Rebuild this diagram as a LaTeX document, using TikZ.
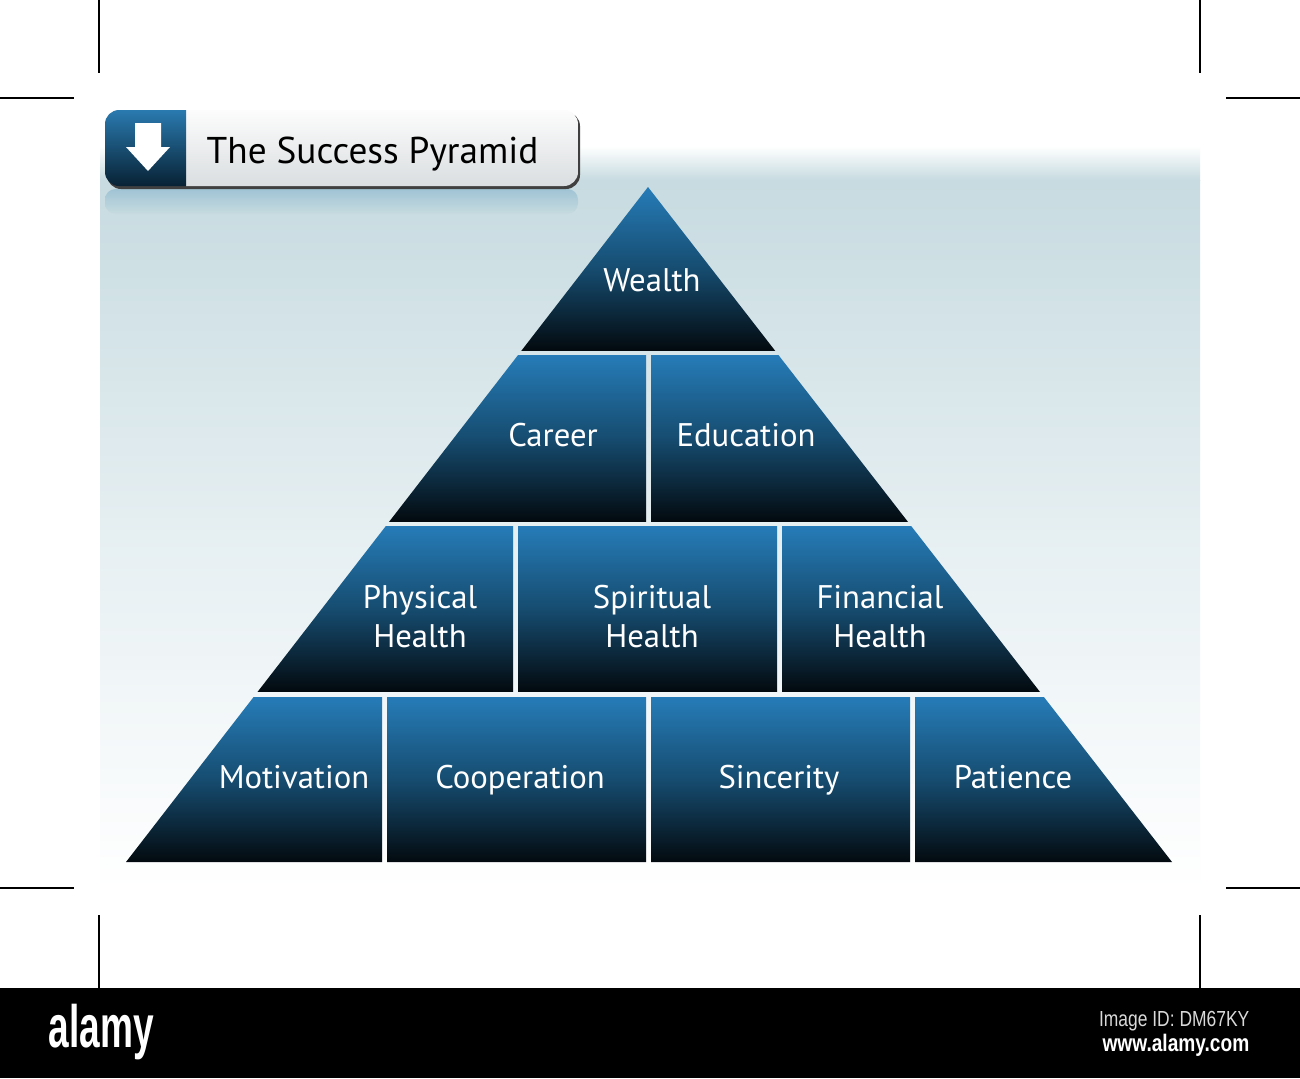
\documentclass[tikz,border=0pt]{standalone}
\usepackage{fontspec}
\setmainfont{PT Sans}
\newfontfamily\barfont{Liberation Sans}
\definecolor{cellTop}{RGB}{38,124,184}
\definecolor{cellMid}{RGB}{22,76,112}
\definecolor{cellBot}{RGB}{3,10,15}
\definecolor{bgA}{RGB}{199,219,224}
\definecolor{bgB}{RGB}{230,239,242}
\definecolor{badgeTop}{RGB}{42,122,176}
\definecolor{badgeBot}{RGB}{8,34,52}
\definecolor{badgeW}{RGB}{252,252,252}
\definecolor{badgeG}{RGB}{218,222,224}
\definecolor{reflA}{RGB}{150,190,210}
\tikzset{
  cell/.style={top color=cellTop, bottom color=cellBot, middle color=cellMid},
  lbl/.style={text=white, font=\fontsize{9.3}{11.1}\selectfont, align=center, inner sep=0pt},
  lblone/.style={lbl, anchor=base},
  cropmark/.style={draw=black, line width=0.45pt},
}
\begin{document}
\begin{tikzpicture}[x=0.01cm,y=-0.01cm]
\useasboundingbox (0,0) rectangle (1300,1078);
\fill[white] (0,0) rectangle (1300,1078);
% background band
\shade[top color=white, bottom color=bgA] (100,146) rectangle (1200,180);
\shade[top color=bgA, bottom color=white, middle color=bgB] (100,180) rectangle (1200,890);
% crop marks
\draw[cropmark] (99,0) -- (99,73);
\draw[cropmark] (99,915) -- (99,988);
\draw[cropmark] (1200,0) -- (1200,73);
\draw[cropmark] (1200,915) -- (1200,988);
\draw[cropmark] (0,98) -- (74,98);
\draw[cropmark] (1226,98) -- (1300,98);
\draw[cropmark] (0,888) -- (74,888);
\draw[cropmark] (1226,888) -- (1300,888);
% badge reflection
\shade[top color=reflA, bottom color=bgA, opacity=0.8, rounded corners=3pt] (105,189) rectangle (578,214);
% badge
\fill[black!75, rounded corners=4pt] (107,112) rectangle (580,189);
\begin{scope}
  \clip[rounded corners=4pt] (105,110) rectangle (578,186);
  \shade[top color=badgeW, bottom color=badgeG] (186,110) rectangle (578,186);
  \shade[top color=badgeTop, bottom color=badgeBot] (105,110) rectangle (186,186);
\end{scope}
\fill[white] (135,123) -- (161,123) -- (161,147) -- (170,147) -- (148,171) -- (126,147) -- (135,147) -- cycle;
\node[anchor=base west, inner sep=0pt, font=\fontsize{10.6}{13}\selectfont, text=black] (title) at (206,163) {The Success Pyramid};
% pyramid
\begin{scope}
  \clip (648,187) -- (126,862) -- (1172,862) -- cycle;
  \shade[cell] (100,187) rectangle (1200,350);
  \shade[cell] (100,355) rectangle (646,521);
  \shade[cell] (651,355) rectangle (1200,521);
  \shade[cell] (100,526) rectangle (513,691);
  \shade[cell] (518,526) rectangle (777,691);
  \shade[cell] (782,526) rectangle (1200,691);
  \shade[cell] (100,697) rectangle (382,862);
  \shade[cell] (387,697) rectangle (646,862);
  \shade[cell] (651,697) rectangle (910,862);
  \shade[cell] (915,697) rectangle (1200,862);
\end{scope}
\node[lblone] (wealth) at (652,291) {Wealth};
\node[lblone] (career) at (553,446) {Career};
\node[lblone] (education) at (746,446) {Education};
\node[lbl] (physical) at (420,617) {Physical\\Health};
\node[lbl] (spiritual) at (652,617) {Spiritual\\Health};
\node[lbl] (financial) at (880,617) {Financial\\Health};
\node[lblone] (motivation) at (294,788) {Motivation};
\node[lblone] (cooperation) at (520,788) {Cooperation};
\node[lblone] (sincerity) at (779,788) {Sincerity};
\node[lblone] (patience) at (1013,788) {Patience};
% bottom bar
\fill[black] (0,988) rectangle (1300,1078);
\node[anchor=west, inner sep=0pt, text=white, font=\barfont\bfseries\fontsize{17}{17}\selectfont] (alamylogo) at (48,1032) {\scalebox{0.62}[1]{alamy}};
\node[anchor=east, inner sep=0pt, text=white!85!black, font=\barfont\fontsize{6.2}{7}\selectfont] (imageid) at (1250,1021) {\scalebox{0.8}[1]{Image ID: DM67KY}};
\node[anchor=east, inner sep=0pt, text=white, font=\barfont\bfseries\fontsize{6.8}{7}\selectfont] (www) at (1250,1045) {\scalebox{0.8}[1]{www.alamy.com}};
\end{tikzpicture}
\end{document}
